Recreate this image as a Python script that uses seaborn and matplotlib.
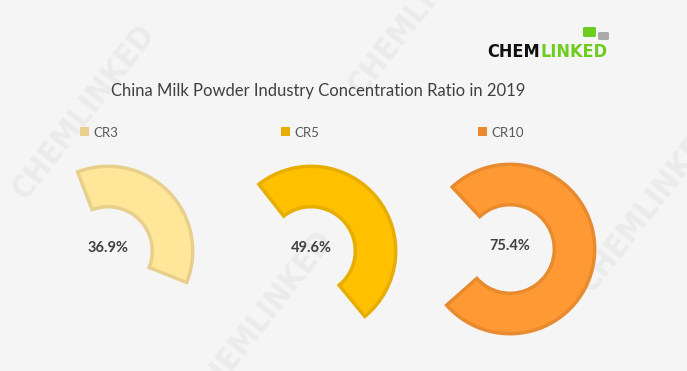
import seaborn as sns
from matplotlib import pyplot as plt
from matplotlib.patches import Patch, FancyBboxPatch

# chart data
labels = ["CR3", "CR5", "CR10"]
values = [36.9, 49.6, 75.4]
value_labels = ["36.9%", "49.6%", "75.4%"]
title = "China Milk Powder Industry Concentration Ratio in 2019"

fills = ["#FFE699", "#FFC000", "#FF9933"]
edges = ["#E8D08C", "#E6AE00", "#E88B2E"]
start_angles = [111, 128, 133]
centers = [(108, 251), (311, 251), (510, 249)]  # pixel positions, y from top
legend_x = [80, 281, 478]

W, H = 687, 371
R = 86

sns.set_theme(style="white")
plt.rcParams['font.family'] = ['Lato', 'DejaVu Sans']

fig = plt.figure(figsize=(W / 100, H / 100), dpi=100)
fig.patch.set_facecolor("#F5F5F5")

# faint watermarks behind the charts
for (x, y) in [(84, 112), (420, 8), (650, 205), (262, 318)]:
    fig.text(x / W, 1 - y / H, "CHEMLINKED", fontsize=23, fontweight="bold",
             color="#EBEBEB", rotation=52, ha="center", va="center",
             family="DejaVu Sans", fontstretch="condensed", zorder=-5)

for i in range(3):
    cx, cy = centers[i]
    ax = fig.add_axes([(cx - R) / W, (H - cy - R) / H, 2 * R / W, 2 * R / H])
    ax.set_zorder(1)
    wedges, _ = ax.pie(
        [values[i], 100 - values[i]],
        startangle=start_angles[i],
        counterclock=False,
        radius=0.985,
        wedgeprops=dict(width=0.47, linewidth=2.5),
    )
    wedges[0].set_facecolor(fills[i])
    wedges[0].set_edgecolor(edges[i])
    wedges[1].set_visible(False)
    ax.set_xlim(-1, 1)
    ax.set_ylim(-1, 1)
    ax.axis("off")
    ax.text(0, 0.04, value_labels[i], ha="center", va="center",
            fontsize=10.5, fontweight="bold", color="#404040")
    ax.legend(handles=[Patch(facecolor=edges[i], edgecolor="none", label=labels[i])],
              loc="center left",
              bbox_to_anchor=(legend_x[i] / W, 1 - 132.5 / H),
              bbox_transform=fig.transFigure, frameon=False, borderpad=0,
              borderaxespad=0, handlelength=0.65, handleheight=0.65,
              handletextpad=0.35, fontsize=9.5, labelcolor="#595959")

fig.text(318 / W, 1 - 91 / H, title, ha="center", va="center",
         fontsize=12, color="#404040")

# logo
fig.text(540 / W, 1 - 52 / H, "CHEM", ha="right", va="center", fontsize=13,
         fontweight="bold", color="#111111", family="DejaVu Sans",
         fontstretch="condensed")
fig.text(540 / W, 1 - 52 / H, "LINKED", ha="left", va="center", fontsize=13,
         fontweight="bold", color="#6ECC1E", family="DejaVu Sans",
         fontstretch="condensed")
fig.patches.append(FancyBboxPatch((583 / W, 1 - 37 / H), 13 / W, 10 / H,
                                  boxstyle="round,pad=0,rounding_size=0.003",
                                  transform=fig.transFigure, facecolor="#6ECC1E",
                                  edgecolor="none"))
fig.patches.append(FancyBboxPatch((598 / W, 1 - 40 / H), 11 / W, 8 / H,
                                  boxstyle="round,pad=0,rounding_size=0.003",
                                  transform=fig.transFigure, facecolor="#AAAAAA",
                                  edgecolor="none"))

fig.savefig("out.png", dpi=100, facecolor=fig.get_facecolor())
